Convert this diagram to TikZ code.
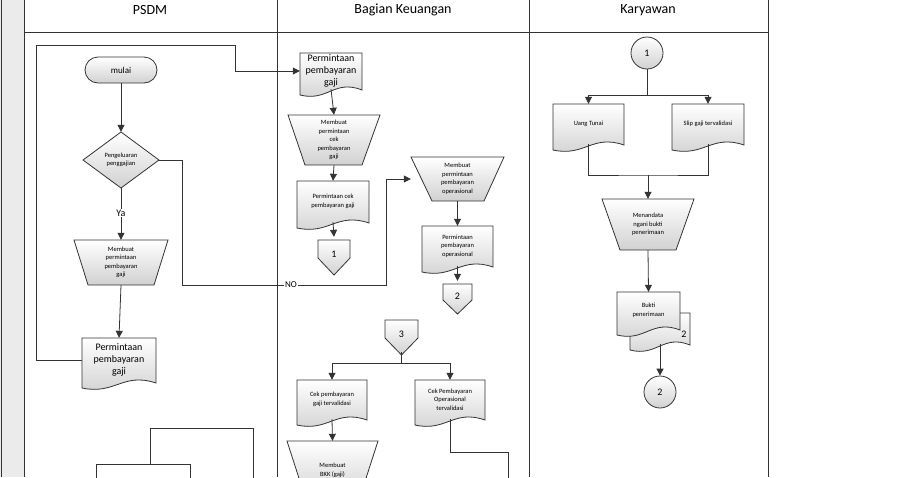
\documentclass[tikz,border=0pt]{standalone}
\usepackage{fontspec}
\setmainfont{Carlito}
\usetikzlibrary{arrows.meta}
\tikzset{
 shp/.style={draw=black!80,line width=0.8pt,top color=white,bottom color=black!18},
 txt/.style={inner sep=0pt,align=center,font=\fontsize{6.5}{8.5}\selectfont},
 bigt/.style={inner sep=0pt,align=center,font=\fontsize{10}{12}\selectfont},
 ln/.style={draw=black!80,line width=0.8pt},
 arr/.style={ln,-{Triangle[width=7pt,length=7pt]}},
 hdr/.style={font=\fontsize{14}{16}\selectfont}}
\begin{document}
\begin{tikzpicture}[x=1pt,y=-1pt]
\def\docsh#1#2#3#4#5#6#7{%
 \path[shp] (#2,#3) -- (#4,#3) -- (#4,{#5-7}) .. controls ({#4-0.45*(#4-#2)},{#5-18}) and ({#2+0.45*(#4-#2)},{#5+5}) .. (#2,{#5-2}) -- cycle;
 \node[#6,minimum width={#4-#2},minimum height={#5-#3-8}] (#1) at ({(#2+#4)/2},{(#3+#5-8)/2}) {#7};}
\def\manop#1#2#3#4#5#6#7#8{%
 \path[shp] (#2,#6) -- (#3,#6) -- (#5,#7) -- (#4,#7) -- cycle;
 \node[txt,minimum width={#3-#2},minimum height={#7-#6}] (#1) at ({(#2+#3)/2},{(#6+#7)/2}) {#8};}
\def\offp#1#2#3#4#5#6#7{%
 \path[shp] (#2,#4) -- (#3,#4) -- (#3,#5) -- ({(#2+#3)/2},#6) -- (#2,#5) -- cycle;
 \node[inner sep=0pt,font=\fontsize{10}{12}\selectfont,minimum width={#3-#2},minimum height={#6-#4}] (#1) at ({(#2+#3)/2},{(#4+#6)/2-3}) {#7};}
\useasboundingbox (0,0) rectangle (909,477);
\fill[black!8] (0,0) rectangle (24,477);
\draw[black!80,line width=1pt] (1,0) -- (1,477);
% lanes
\draw[ln] (24,0) -- (24,477) (277,0) -- (277,477) (529,0) -- (529,477) (768,0) -- (768,477);
\draw[ln] (24,32) -- (768,32);
\node[hdr] (h1) at (150,10) {PSDM};
\node[hdr] (h2) at (403,10) {Bagian Keuangan};
\node[hdr] (h3) at (648,10) {Karyawan};
% PSDM
\node[shp,rounded corners=13pt,minimum width=72pt,minimum height=26pt,inner sep=0pt,font=\fontsize{9}{11}\selectfont] (mulai) at (121,70) {mulai};
\path[shp] (121,132) -- (159,160) -- (121,188) -- (83,160) -- cycle;
\node[txt,minimum width=76pt,minimum height=56pt] (dec) at (121,160) {Pengeluaran\\penggajian};
\node[inner sep=1pt,font=\fontsize{10}{12}\selectfont] (ya) at (121,213) {Ya};
\manop{trapPS}{74}{168}{88}{154}{240}{285}{Membuat\\permintaan\\pembayaran\\gaji}
\docsh{docPS}{82}{338}{156}{390}{bigt}{Permintaan\\pembayaran\\gaji}
\draw[fill=white,ln] (150,428) rectangle (253,490);
\draw[fill=white,ln] (96,464) rectangle (190,490);
% Keuangan
\docsh{docK1}{300}{53}{362}{97}{bigt}{Permintaan\\pembayaran\\gaji}
\manop{trapK1}{288}{380}{305}{362}{115}{165}{Membuat\\permintaan\\cek\\pembayaran\\gaji}
\docsh{docK2}{297}{181}{369}{230}{txt}{Permintaan cek\\pembayaran gaji}
\offp{off1}{318}{350}{240}{258}{275}{1}
\manop{trapOp}{411}{504}{432}{484}{157}{201}{Membuat\\permintaan\\pembayaran\\operasional}
\docsh{docOp}{422}{226}{493}{274}{txt}{Permintaan\\pembayaran\\operasional}
\offp{off2}{443}{472}{284}{300}{314}{2}
\offp{off3}{385}{418}{320}{338}{355}{3}
\docsh{docG}{297}{380}{367}{427}{txt}{Cek pembayaran\\gaji tervalidasi}
\docsh{docO}{415}{380}{485}{427}{txt}{Cek Pembayaran\\Operasional\\tervalidasi}
\manop{trapBKK}{287}{378}{306}{359}{441}{500}{Membuat\\BKK (gaji)}
% Karyawan
\node[shp,circle,minimum size=32pt,inner sep=0pt,font=\fontsize{10}{12}\selectfont] (c1) at (647,53) {1};
\docsh{docU}{553}{104}{624}{152}{txt}{Uang Tunai}
\docsh{docS}{672}{104}{744}{152}{txt}{Slip gaji tervalidasi}
\manop{trapM}{602}{694}{620}{676}{199}{250}{Menandata\\ngani bukti\\penerimaan}
\docsh{docB}{630}{313}{690}{352}{txt}{}
\node[inner sep=0pt,font=\fontsize{10}{12}\selectfont] (two) at (684,334) {2};
\docsh{mdoc}{617}{292}{680}{337}{txt}{Bukti\\penerimaan}
\node[shp,circle,minimum size=32pt,inner sep=0pt,font=\fontsize{10}{12}\selectfont] (c2) at (660,392) {2};
% connectors PSDM
\draw[arr] (mulai) -- (dec);
\draw[ln] (dec.south) -- (ya.north);
\draw[arr] (ya.south) -- (trapPS.north);
\draw[arr] (trapPS.south) -- (docPS.north);
\draw[arr] (docPS.west) -| (36,45) -- (235,45) |- (docK1.west);
\draw[arr] (dec.east) -| (182,285) -- (386,285) |- (trapOp.west);
\node[fill=white,inner sep=1pt,font=\fontsize{9}{11}\selectfont] (no) at (291,285) {NO};
% Keuangan
\draw[arr] (docK1.south) -- (trapK1.north);
\draw[arr] (trapK1.south) -- (docK2.north);
\draw[arr] (docK2.south) -- (off1.north);
\draw[arr] (trapOp.south) -- (docOp.north);
\draw[arr] (docOp.south) -- (off2.north);
\coordinate (br3) at (401.5,363);
\draw[ln] (off3.south) -- (br3);
\draw[arr] (br3) -| (docG.north);
\draw[arr] (br3) -| (docO.north);
\draw[arr] (docG.south) -- (trapBKK.north);
\coordinate (e1) at (508,480);
\draw[ln] (docO.south) -- (450,452) -| (e1);
% Karyawan
\coordinate (br1) at (647,95);
\draw[ln] (c1) -- (br1);
\draw[arr] (br1) -| (docU.north);
\draw[arr] (br1) -| (docS.north);
\coordinate (jn) at (648,175);
\draw[ln] (docU.south) |- (jn) -| (docS.south);
\draw[arr] (jn) -- (trapM.north);
\draw[arr] (trapM.south) -- (mdoc.north);
\draw[arr] (docB.south) -- (c2);
\end{tikzpicture}
\end{document}
